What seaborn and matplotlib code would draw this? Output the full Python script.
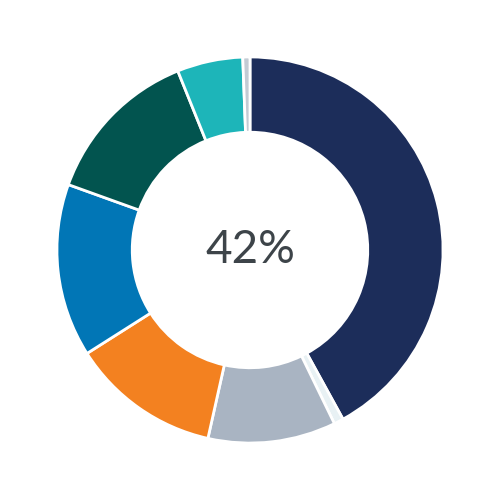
import matplotlib.pyplot as plt
import seaborn as sns

sns.set_theme(style="white")
plt.rcParams['font.family'] = ['Lato', 'DejaVu Sans']

# share of each segment, clockwise from 12 o'clock
labels = ["A", "B", "C", "D", "E", "F", "G", "H"]
values = [42.0, 0.8, 10.7, 12.5, 14.5, 13.4, 5.5, 0.6]
colors = ["#1c2d5a", "#e8f1f4", "#a9b4c2", "#f38120", "#0176b6",
          "#02544f", "#1db5b9", "#c3cbd4"]
center_text = "42%"

fig, ax = plt.subplots(figsize=(5, 5), dpi=100)
ax.pie(values, colors=colors, startangle=90, counterclock=False,
       radius=1.0,
       wedgeprops=dict(width=0.39, edgecolor="white", linewidth=2))
ax.text(0, 0, center_text, ha="center", va="center", fontsize=33,
        color="#3d4449", fontweight="normal")
ax.set_aspect("equal")
ax.set_xlim(-1.295, 1.295)
ax.set_ylim(-1.295, 1.295)
ax.axis("off")
plt.subplots_adjust(left=0, right=1, top=1, bottom=0)
plt.savefig("out.png", dpi=100)
